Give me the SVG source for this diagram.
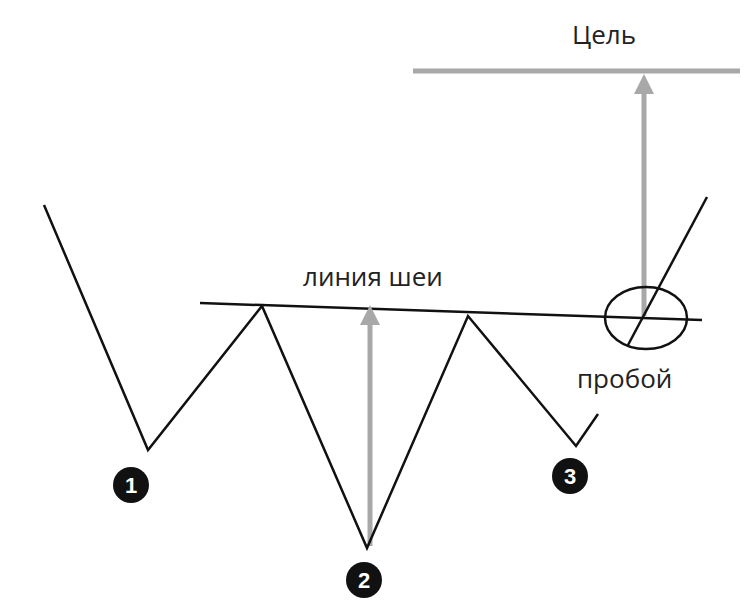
<svg xmlns="http://www.w3.org/2000/svg" width="756" height="612" viewBox="0 0 756 612">
<style>
.t{font-family:"Open Sans","Liberation Sans",sans-serif;font-size:26px;fill:#222}
.n{font-family:"Liberation Sans",sans-serif;font-size:22px;font-weight:bold;fill:#fff;text-anchor:middle}
.blk{stroke:#111;stroke-width:2.5;fill:none}
.gr{stroke:#a8a8a8;stroke-width:5;fill:none}
</style>
<defs><marker id="ah" markerWidth="4" markerHeight="4" refX="2" refY="2" orient="auto"><path d="M0,0L4,2L0,4z" fill="#a8a8a8"/></marker></defs>
<rect width="756" height="612" fill="#fff"/>
<g id="target"><line class="gr" x1="413" y1="71" x2="740" y2="71"/><text class="t" x="572" y="44">Цель</text></g>
<g id="neckline"><line class="blk" x1="200" y1="303" x2="702" y2="320"/><text class="t" x="303" y="286">линия шеи</text></g>
<g id="connectors">
<line class="gr" x1="370" y1="546" x2="370" y2="315" marker-end="url(#ah)"/>
<line class="gr" x1="644" y1="316" x2="644" y2="84" marker-end="url(#ah)"/>
<polyline class="blk" points="44,205 148,450 262,306 367,548 468,316 576,446 598,414"/>
<line class="blk" x1="628" y1="345" x2="707" y2="197"/>
</g>
<g id="breakout"><ellipse class="blk" cx="646" cy="318" rx="41" ry="31"/><text class="t" x="577" y="388">пробой</text></g>
<g id="p1"><circle cx="131" cy="485" r="18" fill="#111"/><text class="n" x="131" y="493">1</text></g>
<g id="p2"><circle cx="364" cy="580" r="18" fill="#111"/><text class="n" x="364" y="588">2</text></g>
<g id="p3"><circle cx="570" cy="476" r="18" fill="#111"/><text class="n" x="570" y="484">3</text></g>
</svg>
